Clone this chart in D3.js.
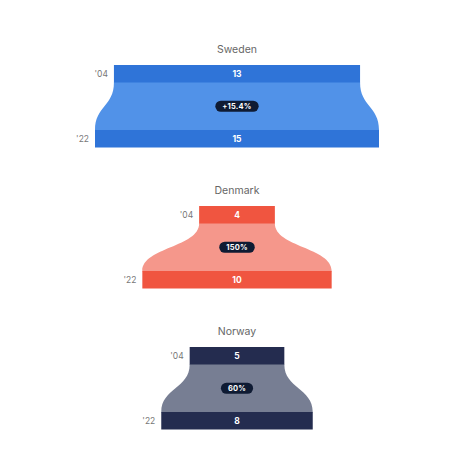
<!DOCTYPE html>
<html>
<head>
<meta charset="utf-8">
<script src="https://cdn.jsdelivr.net/npm/d3@7"></script>
<style>
  html, body { margin: 0; padding: 0; background: #fff; }
  svg { display: block; font-family: Inter, "Open Sans", sans-serif; }
</style>
</head>
<body>
<svg id="chart" width="474" height="474"></svg>
<script>
const countries = ["Sweden", "Denmark", "Norway"];
const values2004 = [13, 4, 5];
const values2022 = [15, 10, 8];
const changeLabels = ["+15.4%", "150%", "60%"];
const yearLabels = ["'04", "'22"];
const barColors = ["#2f74d8", "#f05540", "#242c4f"];
const flowColors = ["#5192e8", "#f5978b", "#777e93"];

const svg = d3.select("#chart");
const cx = 237;
const x = d3.scaleLinear().domain([0, 15]).range([0, 284]);
const panelY = d3.scalePoint().domain(countries).range([65, 347]);
const barH = 17.5;
const gap = 47.5;

countries.forEach((c, i) => {
  const top = panelY(c);
  const w0 = x(values2004[i]);
  const w1 = x(values2022[i]);
  const y0 = top + barH;
  const y1 = y0 + gap;
  const ym = (y0 + y1) / 2;
  const g = svg.append("g");

  const p = d3.path();
  p.moveTo(cx - w0 / 2, y0 - 0.5);
  p.lineTo(cx - w0 / 2, y0);
  p.bezierCurveTo(cx - w0 / 2, ym, cx - w1 / 2, ym, cx - w1 / 2, y1);
  p.lineTo(cx - w1 / 2, y1 + 0.5);
  p.lineTo(cx + w1 / 2, y1 + 0.5);
  p.lineTo(cx + w1 / 2, y1);
  p.bezierCurveTo(cx + w1 / 2, ym, cx + w0 / 2, ym, cx + w0 / 2, y0);
  p.lineTo(cx + w0 / 2, y0 - 0.5);
  p.closePath();
  g.append("path").attr("d", p.toString()).attr("fill", flowColors[i]);

  const bars = [{v: values2004[i], y: top, lab: yearLabels[0]}, {v: values2022[i], y: y1, lab: yearLabels[1]}];
  bars.forEach(b => {
    const w = x(b.v);
    g.append("rect").attr("x", cx - w / 2).attr("y", b.y).attr("width", w).attr("height", barH)
      .attr("fill", barColors[i]);
    g.append("text").attr("x", cx).attr("y", b.y + barH / 2).attr("dy", "0.35em")
      .attr("text-anchor", "middle").attr("fill", "#fff").attr("font-size", 8.5).attr("font-weight", 700)
      .text(b.v);
    g.append("text").attr("x", cx - w / 2 - 6).attr("y", b.y + barH / 2).attr("dy", "0.35em")
      .attr("text-anchor", "end").attr("fill", "#777").attr("font-size", 8.5)
      .text(b.lab);
  });

  g.append("text").attr("x", cx).attr("y", top - 12).attr("text-anchor", "middle")
    .attr("fill", "#666").attr("font-size", 10.5).text(c);

  const pill = g.append("g");
  const t = pill.append("text").attr("x", cx).attr("y", ym).attr("dy", "0.35em")
    .attr("text-anchor", "middle").attr("fill", "#fff").attr("font-size", 7.5).attr("font-weight", 700)
    .attr("letter-spacing", 0.2)
    .text(changeLabels[i]);
  const tw = t.node().getComputedTextLength();
  pill.insert("rect", "text").attr("x", cx - tw / 2 - 7).attr("y", ym - 5.5).attr("width", tw + 14).attr("height", 11)
    .attr("rx", 5.5).attr("fill", "#0f1b33");
});
</script>
</body>
</html>
